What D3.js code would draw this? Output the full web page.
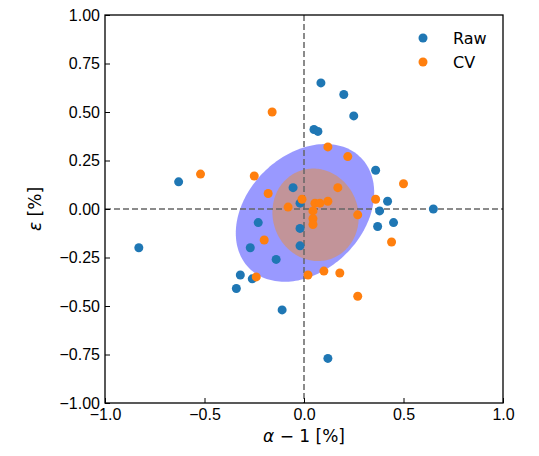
<!DOCTYPE html>
<html>
<head>
<meta charset="utf-8">
<script src="https://cdn.jsdelivr.net/npm/d3@7"></script>
<style>
  body { margin: 0; background: #fff; }
  svg { font-family: "DejaVu Sans", sans-serif; }
</style>
</head>
<body>
<svg id="chart" width="539" height="456"></svg>
<script>
// DATA
const rawX = [-0.63, -0.83, 0.085, 0.20, 0.05, 0.07, 0.25, 0.36, -0.055, -0.02, -0.23, -0.02, -0.02,
  -0.27, -0.14, -0.32, -0.26, -0.34, -0.11, 0.12, 0.65, 0.38, 0.42, 0.37, 0.45];
const rawY = [0.14, -0.20, 0.65, 0.59, 0.41, 0.40, 0.48, 0.20, 0.11, 0.03, -0.07, -0.10, -0.19,
  -0.20, -0.26, -0.34, -0.36, -0.41, -0.52, -0.77, 0.0, -0.01, 0.04, -0.09, -0.07];

const cvX = [-0.16, -0.52, -0.25, -0.18, -0.08, 0.12, 0.22, 0.50, 0.17, 0.36, 0.12, -0.01, 0.055,
  0.08, 0.045, 0.045, 0.045, 0.27, -0.20, -0.24, 0.02, 0.10, 0.18, 0.44, 0.27];
const cvY = [0.50, 0.18, 0.17, 0.08, 0.01, 0.32, 0.27, 0.13, 0.11, 0.05, 0.04, 0.05, 0.03,
  0.03, -0.01, -0.05, -0.08, -0.03, -0.16, -0.35, -0.34, -0.32, -0.33, -0.17, -0.45];

// ellipse: centre x, centre y, semi-major, semi-minor, angle (deg)
const rawEllipse = [0.005, -0.02, 0.40, 0.295, 47];
const cvEllipse = [0.058, -0.03, 0.24, 0.215, 105];

const xTicks = [-1.0, -0.5, 0.0, 0.5, 1.0];
const yTicks = [-1.0, -0.75, -0.5, -0.25, 0.0, 0.25, 0.5, 0.75, 1.0];
const seriesNames = ["Raw", "CV"];

// CANVAS SETUP
const svg = d3.select("#chart");
const margin = { top: 15, right: 36, bottom: 53, left: 105 },
  width = +svg.attr("width") - margin.left - margin.right,
  height = +svg.attr("height") - margin.top - margin.bottom;

const g = svg.append("g").attr("transform", `translate(${margin.left},${margin.top})`);

const x = d3.scaleLinear().domain([-1, 1]).range([0, width]);
const y = d3.scaleLinear().domain([-1, 1]).range([height, 0]);

const colors = ["#1f77b4", "#ff7f0e"];

// ELLIPSES
const ellipsePath = function (e) {
  const [cx, cy, a, b, ang] = e;
  const r = (ang * Math.PI) / 180;
  const pts = d3.range(0, 361, 2).map((deg) => {
    const t = (deg * Math.PI) / 180;
    const px = a * Math.cos(t), py = b * Math.sin(t);
    return [cx + px * Math.cos(r) - py * Math.sin(r), cy + px * Math.sin(r) + py * Math.cos(r)];
  });
  return d3.line().x((d) => x(d[0])).y((d) => y(d[1]))(pts);
};

g.append("path").attr("d", ellipsePath(rawEllipse))
  .attr("fill", "blue").attr("fill-opacity", 0.4);
g.append("path").attr("d", ellipsePath(cvEllipse))
  .attr("fill", "darkorange").attr("fill-opacity", 0.4);

// ZERO LINES
g.append("line")
  .attr("x1", x(0)).attr("x2", x(0)).attr("y1", 0).attr("y2", height)
  .attr("stroke", "#666").attr("stroke-width", 1.5).attr("stroke-dasharray", "6,3");
g.append("line")
  .attr("x1", 0).attr("x2", width).attr("y1", y(0)).attr("y2", y(0))
  .attr("stroke", "#666").attr("stroke-width", 1.5).attr("stroke-dasharray", "6,3");

// POINTS
const series = [
  rawX.map((v, i) => [v, rawY[i]]),
  cvX.map((v, i) => [v, cvY[i]]),
];
series.forEach((pts, k) => {
  g.append("g").selectAll("circle").data(pts).join("circle")
    .attr("cx", (d) => x(d[0]))
    .attr("cy", (d) => y(d[1]))
    .attr("r", 4.5)
    .attr("fill", colors[k]);
});

// AXES
const fmtX = (d) => d3.format(".1f")(d).replace("-", "\u2212");
const fmtY = (d) => d3.format(".2f")(d).replace("-", "\u2212");

const gx = g.append("g").attr("transform", `translate(0,${height})`)
  .call(d3.axisBottom(x).tickValues(xTicks).tickFormat(fmtX).tickSizeInner(-5).tickSizeOuter(0).tickPadding(6));
const gy = g.append("g")
  .call(d3.axisLeft(y).tickValues(yTicks).tickFormat(fmtY).tickSizeInner(-5).tickSizeOuter(0).tickPadding(5));

[gx, gy].forEach((ax) => {
  ax.select(".domain").remove();
  ax.selectAll("line").attr("stroke", "#000").attr("stroke-width", 1);
  ax.selectAll("text").attr("fill", "#000").style("font-size", "16px");
});

// frame
g.append("rect").attr("width", width).attr("height", height)
  .attr("fill", "none").attr("stroke", "#000").attr("stroke-width", 1.3);

// LABELS
const xl = svg.append("text")
  .attr("x", margin.left + x(0)).attr("y", 442)
  .attr("text-anchor", "middle").style("font-size", "17px");
xl.append("tspan").style("font-style", "italic").text("α");
xl.append("tspan").text(" \u2212 1 [%]");

const yl = svg.append("text")
  .attr("transform", `translate(41,${margin.top + y(0)}) rotate(-90)`)
  .attr("text-anchor", "middle").style("font-size", "17px");
yl.append("tspan").style("font-style", "italic").text("ε");
yl.append("tspan").text(" [%]");

// LEGEND
const lg = svg.append("g").attr("transform", "translate(423,38)");
seriesNames.forEach((name, k) => {
  const row = lg.append("g").attr("transform", `translate(0,${k * 24})`);
  row.append("circle").attr("r", 4.5).attr("fill", colors[k]);
  row.append("text").attr("x", 30).attr("y", 6).style("font-size", "16px").text(name);
});
</script>
</body>
</html>
